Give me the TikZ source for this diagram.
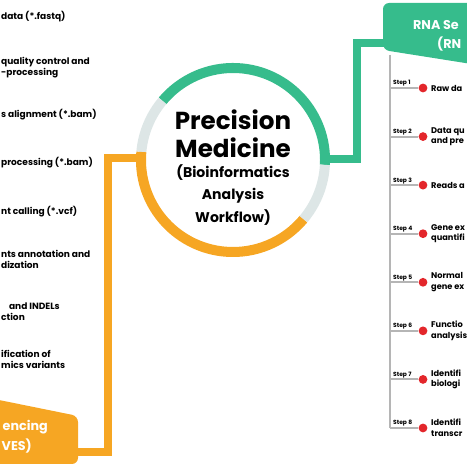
\documentclass[tikz,border=0pt]{standalone}
\usepackage{fontspec}
\setmainfont{Poppins}
\usetikzlibrary{positioning}
\definecolor{seqgreen}{HTML}{36BC8C}
\definecolor{seqorange}{HTML}{F6A623}
\definecolor{ringgray}{HTML}{DDE6E6}
\definecolor{stemgray}{HTML}{B5B5B5}
\definecolor{dotred}{HTML}{E3262B}
\begin{document}
\begin{tikzpicture}[x=0.04cm,y=0.04cm,line join=miter,
  ring/.style={line width=11.4pt},
  link/.style={line width=10.2pt},
  banner/.style={rounded corners=7pt},
  headtext/.style={inner sep=0pt,text=white,font=\fontsize{14.5}{21.6}\selectfont\bfseries},
  steptext/.style={anchor=west,align=left,inner sep=0pt,font=\fontsize{10.3}{12.5}\selectfont\bfseries},
  steplabel/.style={anchor=base west,inner sep=0pt,font=\fontsize{6.8}{8}\selectfont\bfseries},
  stepdot/.style={circle,fill=dotred,inner sep=0pt,minimum size=10pt}]
  \useasboundingbox (0,0) rectangle (467,467);
  \clip (0,0) rectangle (467,467);
  \coordinate (C) at (233,307);
  \coordinate (gstart) at (325,308);
  \coordinate (gknee) at (357,308);
  \coordinate (gtop) at (357,424);
  \coordinate (gend) at (392,424);
  \coordinate (ostart) at (141,309);
  \coordinate (oknee) at (108,309);
  \coordinate (obottom) at (108,15);
  \coordinate (oend) at (72,15);
  \coordinate (stemtop) at (390,412);
  \coordinate (stembottom) at (390,39);
  \draw[link,seqgreen] (gstart) -- (gknee) -- (gtop) -- (gend);
  \draw[link,seqorange] (ostart) -- (oknee) -- (obottom) -- (oend);
  \draw[ring,seqgreen] (C) ++(-3:3.68cm) arc[start angle=-3, end angle=140, radius=3.68cm];
  \draw[ring,ringgray] (C) ++(140:3.68cm) arc[start angle=140, end angle=175, radius=3.68cm];
  \draw[ring,seqorange] (C) ++(175:3.68cm) arc[start angle=175, end angle=320, radius=3.68cm];
  \draw[ring,ringgray] (C) ++(320:3.68cm) arc[start angle=320, end angle=357, radius=3.68cm];
  \node[align=center,font=\fontsize{28}{32}\selectfont\bfseries] (hub) at (233,333) {Precision\\Medicine};
  \node[align=center,font=\fontsize{16}{25.6}\selectfont\bfseries] (hubsub) at (233,272) {(Bioinformatics\\Analysis\\Workflow)};
  \fill[banner,seqgreen] (383,417) -- (383,464) -- (560,464) -- (560,389) -- cycle;
  \node[headtext,anchor=base west] (rnahead) at (413,437) {RNA Se};
  \node[headtext,anchor=base west] (rnasub) at (437,418) {(RN};
  \fill[banner,seqorange] (-80,83) -- (78,51) -- (78,3) -- (-80,3) -- cycle;
  \node[headtext,anchor=base east] (weshead) at (48,36) {encing};
  \node[headtext,anchor=base east] (wessub) at (32,17) {VES)};
  \draw[stemgray,line width=2.3pt] (stemtop) -- (stembottom);
  \foreach \k/\txt in {1/{Raw da},2/{Data qu\\and pre},3/{Reads a},4/{Gene ex\\quantifi},5/{Normal\\gene ex},6/{Functio\\analysis},7/{Identifi\\biologi},8/{Identifi\\transcr}}{
    \pgfmathsetmacro{\yk}{379-48.57*(\k-1)}
    \coordinate (rs\k) at (390,\yk);
    \node[stepdot] (rd\k) at (423,\yk) {};
    \draw[stemgray,line width=2.3pt] (rs\k) -- (rd\k);
    \node[steplabel] (rl\k) at (393,\yk+3) {Step \k};
    \node[steptext,font=\fontsize{9.4}{12}\selectfont\bfseries] (rt\k) at (431,\yk) {\txt};
  }
  \foreach \k/\yk/\txt in {1/450/{data (*.fastq)},2/399.5/{quality control and\\-processing},3/352/{s alignment (*.bam)},4/304/{processing (*.bam)},5/255/{nt calling (*.vcf)},6/208/{nts annotation and\\dization},7/155/{\hspace*{9pt}and INDELs\\ction},8/108/{ification of\\mics variants}}{
    \node[steptext] (lt\k) at (1,\yk) {\txt};
  }
\end{tikzpicture}
\end{document}
